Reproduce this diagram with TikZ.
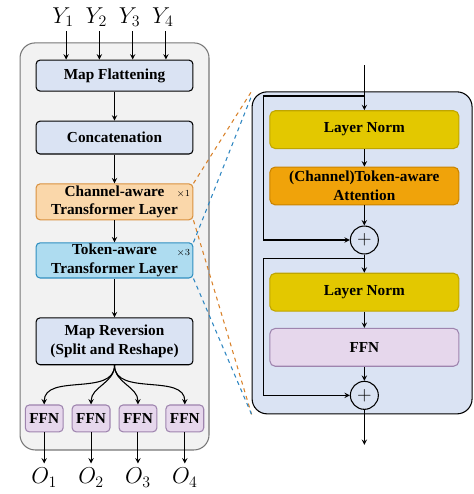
\documentclass[tikz,border=0pt]{standalone}
\usepackage{amsmath}
\usepackage{fontspec}
\usepackage{xcolor}
\usepackage{tikz}
\usetikzlibrary{shapes.geometric, arrows, positioning}
\newfontfamily\boxfont{Liberation Serif}
\definecolor{mapfill}{HTML}{DAE3F3}
\definecolor{panelfill}{HTML}{F2F2F2}
\definecolor{panelline}{HTML}{777777}
\definecolor{chanfill}{HTML}{FAD7AA}
\definecolor{chanline}{HTML}{D9913F}
\definecolor{tokfill}{HTML}{AEDCF0}
\definecolor{tokline}{HTML}{2F8FC0}
\definecolor{ffnfill}{HTML}{E6D7EC}
\definecolor{ffnline}{HTML}{9E84AE}
\definecolor{normfill}{HTML}{E3C800}
\definecolor{normline}{HTML}{BFA500}
\definecolor{attnfill}{HTML}{F0A30A}
\definecolor{attnline}{HTML}{C98300}
\definecolor{linkorange}{HTML}{D9822B}
\definecolor{linkblue}{HTML}{2E86C1}
\tikzstyle{block} = [rectangle, rounded corners=3pt, minimum width=4.15cm, minimum height=0.82cm, inner ysep=1pt, text centered, align=center, draw=black, thick, fill=mapfill, font=\boxfont\bfseries\fontsize{11.5}{14}\selectfont]
\tikzstyle{chanblock} = [block, fill=chanfill, draw=chanline, minimum height=0.95cm]
\tikzstyle{tokblock} = [block, fill=tokfill, draw=tokline, minimum height=0.93cm]
\tikzstyle{ffnsmall} = [rectangle, rounded corners=3pt, minimum width=1cm, minimum height=0.71cm, inner sep=1pt, text centered, draw=ffnline, thick, fill=ffnfill, font=\boxfont\bfseries\fontsize{11.5}{14}\selectfont]
\tikzstyle{wide} = [rectangle, rounded corners=4pt, minimum width=5cm, minimum height=1cm, inner ysep=1pt, text centered, align=center, thick, font=\boxfont\bfseries\fontsize{11.5}{14}\selectfont]
\tikzstyle{norm} = [wide, fill=normfill, draw=normline]
\tikzstyle{attn} = [wide, fill=attnfill, draw=attnline]
\tikzstyle{ffnwide} = [wide, fill=ffnfill, draw=ffnline]
\tikzstyle{adder} = [circle, minimum size=0.74cm, inner sep=0pt, draw=black, thick, fill=mapfill]
\tikzstyle{panel} = [rectangle, rounded corners=0.4cm, thick]
\tikzstyle{tag} = [font=\LARGE]
\tikzstyle{arrow} = [thick,->,>=stealth]
\tikzstyle{link} = [thick, dashed]

\begin{document}
\begin{tikzpicture}[node distance=1.7cm]
        \useasboundingbox (0,0) rectangle (12.54,-13.07);
        \node (body) [panel, fill=panelfill, draw=panelline, minimum width=5cm, minimum height=10.77cm] at (3.03,-6.52) {};
        \node (detail) [panel, fill=mapfill, draw=black, minimum width=5.82cm, minimum height=8.52cm] at (9.58,-6.69) {};

        \node (flat) [block] at (3.03,-2.00) {Map Flattening};
        \node (conc) [block, below of=flat, yshift=+0.06cm, minimum height=0.87cm] {Concatenation};
        \node (chan) [chanblock, below of=conc] {Channel-aware\\Transformer Layer};
        \node (chanrep) [font=\scriptsize, xshift=1.82cm, yshift=+0.21cm] at (chan) {$\times 1$};
        \node (tok) [tokblock, below of=chan, yshift=+0.15cm] {Token-aware\\Transformer Layer};
        \node (tokrep) [font=\scriptsize, xshift=1.82cm, yshift=+0.2cm] at (tok) {$\times 3$};
        \node (rev) [block, below of=tok, yshift=-0.44cm, minimum height=1.24cm] {Map Reversion\\(Split and Reshape)};

        \foreach \i/\dx in {1/-1.36,2/-0.48,3/0.40,4/1.28}
            \node (y\i) [tag, above of=flat, yshift=-0.15cm, xshift=\dx cm] {$Y_{\i}$};
        \foreach \i/\dx in {1/-1.86,2/-0.62,3/0.62,4/1.86} {
            \node (ffn\i) [ffnsmall, below of=rev, yshift=-0.34cm, xshift=\dx cm] {FFN};
            \node (o\i) [tag, below of=ffn\i, yshift=+0.13cm] {$O_{\i}$};
        }

        \node (ln1) [norm] at (9.64,-3.43) {Layer Norm};
        \node (att) [attn, below of=ln1, yshift=+0.21cm] {(Channel)Token-aware\\Attention};
        \node (plus1) [adder, below of=att, yshift=+0.27cm] {\Large $+$};
        \node (ln2) [norm, below of=plus1, yshift=+0.32cm] {Layer Norm};
        \node (ffnb) [ffnwide, below of=ln2, yshift=+0.24cm] {FFN};
        \node (plus2) [adder, below of=ffnb, yshift=+0.43cm] {\Large $+$};

        \coordinate (in) at (9.64,-1.72);
        \coordinate (split1) at (9.64,-2.54);
        \coordinate (bypass1) at (6.96,-2.54);
        \coordinate (split2) at (9.64,-6.83);
        \coordinate (bypass2) at (6.96,-6.83);
        \coordinate (out) at (9.64,-11.77);

        \foreach \i in {1,2,3,4}
            \draw [arrow] ([xshift=0.08cm]y\i.south) -- ([xshift=0.08cm]y\i.south |- flat.north);
        \draw [arrow] (flat) -- (conc);
        \draw [arrow] (conc) -- (chan);
        \draw [arrow] (chan) -- (tok);
        \draw [arrow] (tok) -- (rev);
        \foreach \i in {1,2,3,4} {
            \draw [arrow] (rev.south) to[out=-90, in=90] (ffn\i.north);
            \draw [arrow] (ffn\i) -- (o\i);
        }

        \draw [arrow] (in) -- (ln1);
        \draw [thick] (split1) -- (bypass1);
        \draw [arrow] (bypass1) |- (plus1);
        \draw [arrow] (ln1) -- (att);
        \draw [arrow] (att) -- (plus1);
        \draw [arrow] (plus1) -- (ln2);
        \draw [thick] (split2) -- (bypass2);
        \draw [arrow] (bypass2) |- (plus2);
        \draw [arrow] (ln2) -- (ffnb);
        \draw [arrow] (ffnb) -- (plus2);
        \draw [arrow] (plus2) -- (out);

        \draw [link, linkorange] (chan.north east) -- (detail.north west);
        \draw [link, linkorange] (chan.south east) -- (detail.south west);
        \draw [link, linkblue] (tok.north east) -- ([yshift=-0.12cm]detail.north west);
        \draw [link, linkblue] (tok.south east) -- (detail.south west);
 \end{tikzpicture}
\end{document}
